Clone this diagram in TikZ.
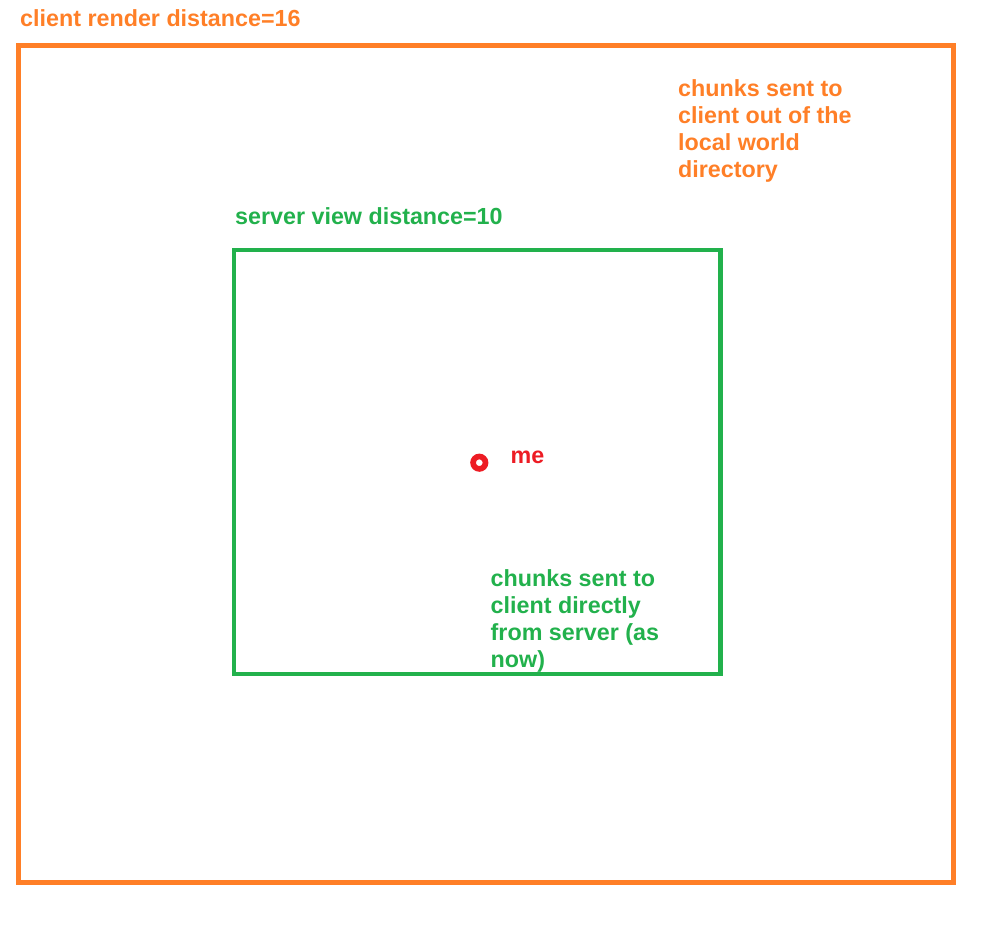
\documentclass[tikz,border=0pt]{standalone}
\usepackage{fontspec}
\setmainfont{Liberation Sans}
\definecolor{porange}{HTML}{FF7F27}
\definecolor{pgreen}{HTML}{22B14C}
\definecolor{pred}{HTML}{ED1C24}
\tikzset{
  lbl/.style={anchor=base west, inner sep=0pt, font=\fontsize{23.3}{27}\selectfont\bfseries},
  frame/.style={line width=5pt},
}
\newcommand{\mylines}[1]{\begin{tabular}[t]{@{}l@{}}#1\end{tabular}}
\begin{document}
\begin{tikzpicture}[x=1pt,y=-1pt]
\useasboundingbox (0,0) rectangle (993,933);
\draw[frame, porange] (18.5,45.5) rectangle (953.5,882.5);
\draw[frame, pgreen, line width=4.6pt] (234,250) rectangle (720.5,674);
\node[lbl, porange] (cr) at (20,27) {client render distance=16};
\node[lbl, pgreen] (sv) at (235,225) {server view distance=10};
\node[lbl, porange] (out) at (678,97) {\mylines{chunks sent to\\client out of the\\local world\\directory}};
\node[lbl, pgreen] (dir) at (490.5,586) {\mylines{chunks sent to\\client directly\\from server (as\\now)}};
\draw[pred, line width=5.7pt] (479.3,462.7) circle (6.2);
\node[lbl, pred] (me) at (510.5,463.3) {me};
\end{tikzpicture}
\end{document}
